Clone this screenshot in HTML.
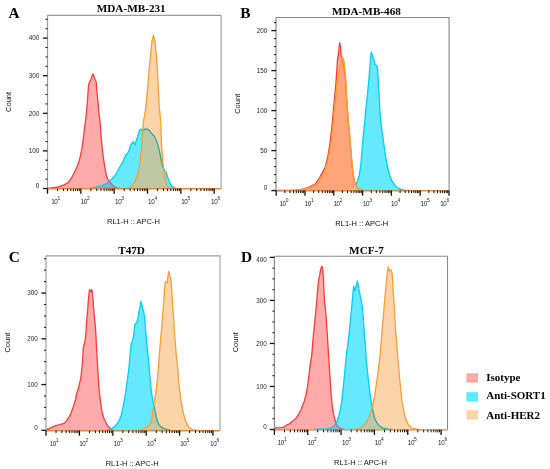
<!DOCTYPE html>
<html><head><meta charset="utf-8"><title>Flow cytometry histograms</title><style>
html,body{margin:0;padding:0;background:#fff;}
svg{display:block;filter:blur(0.3px);}
.tl{font-family:"Liberation Sans",sans-serif;font-size:6.3px;fill:#1e1e1e;}
.xl{letter-spacing:-0.35px;}
.sup{font-size:4.9px;}
.ax{font-family:"Liberation Sans",sans-serif;font-size:7.5px;fill:#111;}
.ti{font-family:"Liberation Serif",serif;font-weight:bold;font-size:11.2px;fill:#000;}
.le{font-family:"Liberation Serif",serif;font-weight:bold;font-size:15.3px;fill:#000;}
.lg{font-family:"Liberation Serif",serif;font-weight:bold;font-size:11px;fill:#000;}
</style></head>
<body><svg width="550" height="469" viewBox="0 0 550 469">
<defs><clipPath id="cAred"><path d="M47.5 188.5L47.5 188.5L55 187.5L58 186.9L61 185.9L64 184.9L66.9 183.4L69.9 180.4L72.2 176.7L74.4 172.2L76.6 167.8L78.9 161.8L80.4 155.8L81.9 148.4L83.2 139.4L84.3 129.5L85.6 120L86.5 111L87.1 105.8L87.8 95.5L88.4 86.6L88.8 84L91 78.9L92.2 75.7L92.9 73.8L94.4 77.7L95.4 80.2L96.1 81.5L96.7 89.2L97.7 99.4L98.9 112.1L99.8 120L100.7 129L101.2 137.9L102.2 146.9L103.1 155.8L104.2 163.3L105.2 169.3L106.4 175.2L107.9 179.7L109.7 181.9L111.6 184.2L113.9 186.4L116.9 187.9L120 188.5L120 188.5Z"/></clipPath><clipPath id="cAcyan"><path d="M89.5 188.5L89.5 188.5L96 187.2L101.9 185.6L106.4 183.6L109.4 181.3L112.4 178.2L115 175.6L117.5 171.5L119.3 167.8L121.2 164.7L123 161.6L124.6 157.2L125.9 154.8L127.4 153.5L128.6 151.7L129.8 148L130.8 144.9L132.1 142.8L133.3 141.8L134.2 143.6L135 144.9L136 141.2L137.3 137.5L138.2 134.4L139.1 131.9L140.4 129.4L141.2 129.2L142.2 130.7L143.4 130.4L145.3 128.8L147.2 129.2L149.1 130.1L151.8 133.6L154.4 136.3L156.1 139.8L157.9 145L159.6 152L161.4 160.8L163.1 167.8L165.8 172.1L167.5 176.5L169.3 181.8L171.9 186.1L175.4 188.4L178 188.5L178 188.5Z"/></clipPath><clipPath id="cAorange"><path d="M124 188.5L124 188.5L127 188.3L129.8 187.3L131.8 186L133.5 183.9L135.2 181.2L136.6 177.8L138 173.7L139 168.9L139.7 164.1L140.4 160L141.6 146.7L142.5 134.4L143.4 122L143.9 118.8L145.2 112L145.8 106.9L147.7 87.7L149.2 68.5L150.6 55L151.9 41.5L153.5 34.8L155 41.5L156.3 55L157.3 68.5L158.3 87.7L159.2 106.9L159.8 112L160.9 124L161.5 145L162.9 162.5L164.7 176.5L166.9 185.3L169.5 187.9L174 188.5L174 188.5Z"/></clipPath><clipPath id="cBred"><path d="M276 190.5L276 190.5L295 190.1L303.1 189.1L309.2 187.1L315.3 184L319.3 178L322.3 172.9L325.4 166.8L327.8 156.7L330.4 140.5L332.5 120.3L333.4 110L334 103.3L335.7 86.2L336.9 69.2L337.4 60.7L338.2 55.6L339.1 48L339.7 42.6L340.6 47.5L341.1 55.6L342.6 62L344.2 69.2L345.6 81L346.5 98L347.3 110L348.3 122.6L350 140.5L351.6 160.8L353.1 174.9L354.4 182L357.6 187.8L361.8 190.1L365 190.5L365 190.5Z"/></clipPath><clipPath id="cBcyan"><path d="M340 190.5L340 190.5L345.6 190.1L351.7 189.1L355.4 186.1L357.4 181L359.4 174.9L361 163L362.8 140.5L364.9 120.3L365.7 110L367.2 96.7L368.7 81.8L369.9 66.9L370.7 56.4L371.4 52.2L372.9 56.4L374.1 60.9L375.1 64.6L376.6 65.4L377.4 66.9L378.1 77.3L378.9 92.2L379.4 100L379.8 110L380.3 116.2L381.9 130.4L383.9 144.6L385.9 158.8L388.4 171L391.4 180.1L395.5 186.2L400.5 189.2L404.6 190.2L410 190.5L410 190.5Z"/></clipPath><clipPath id="cBorange"><path d="M290 190.5L290 190.5L303.1 189.5L311.2 187.1L317.3 184L321.3 179L325.4 168.9L328.4 158.7L331.5 140.5L333.5 120.3L334.4 110L335.6 98L337.4 81.1L339.1 70.9L340.5 64.1L342.2 56.4L343.9 60.7L345.1 70.9L345.9 81.1L346.8 98.2L347.6 110L348.5 122.6L350.2 140.5L351.8 160.8L353.3 174.9L354.6 182L357.8 187.8L361.8 190.1L370 190.5L370 190.5Z"/></clipPath><clipPath id="cCred"><path d="M46 430.5L46 430.5L46.9 429.4L50.7 427.9L55.5 425.6L60 424.7L63 423.7L64.5 423.2L66.5 420.6L69 417.1L71 413.1L73.1 407.1L75.1 401.1L76.6 393.5L77.8 390L79.1 385.1L80.7 378.7L81.6 371L82.3 363.3L82.9 355.6L83.3 347.9L83.8 345.4L84.6 342.8L85.5 337.7L86.1 331L86.4 324.9L87.1 315.8L87.9 306.8L88.5 298.9L89 293.3L89.6 289.7L90.7 291.6L91.8 289.7L92.4 293.3L93 298.9L93.5 306.8L94.3 315.8L95.2 324.9L95.9 335L96.5 347.4L97.2 359.8L98.2 376.3L99.2 390.8L100.7 403.2L102.3 413.5L104.4 419.7L106.5 423.8L108.5 426.9L110.6 428.4L113 430.5L113 430.5Z"/></clipPath><clipPath id="cCcyan"><path d="M106 430.5L106 430.5L110 429.1L112.5 428L115.7 425.5L118.2 422.2L120.7 417.3L122.3 410.7L123.9 402.5L125.6 392.7L127.2 381.2L128.9 368.1L129.6 360L130.5 350.4L131.2 343.5L132.6 340.7L133.7 335.2L134.4 328.2L135 324.1L136.8 322.7L138.2 317.2L138.9 311.6L140 307.5L140.9 301.2L141.9 304.7L142.7 308.9L143.7 311.6L144.7 318.5L145.5 329.6L146.5 340.7L147.4 350.4L148.2 357L149 364.8L149.8 376.3L151 387.8L152.3 397.6L153.4 404.2L154.4 407.5L155.6 414L157.2 420.6L158.9 424.7L161.3 427.1L164.6 428.8L167.9 429.6L171 430.5L171 430.5Z"/></clipPath><clipPath id="cCorange"><path d="M137 430.5L137 430.5L141.6 429.6L145.7 428L149 425.5L151.5 420.6L152.8 412.4L153.9 404.2L155.6 394.3L157.2 381.2L158.4 368.1L159.3 355L161 335L161.9 324.7L163.1 309.8L164.2 294.9L164.9 284.4L165.7 281.7L167.2 282.9L167.9 276.2L168.7 271.3L169.7 275.4L170.9 279.2L171.6 287.4L172.4 302.3L173.6 317.2L174.6 335L176.3 355L177.8 368.6L178.8 384L180.6 397.6L182.8 411.3L185.7 421.5L189.1 427.5L193.3 430L198 430.5L198 430.5Z"/></clipPath><clipPath id="cDred"><path d="M274.4 429.7L274.4 429.7L275.5 427.8L281 427.6L283.7 427.1L285 426.2L287.3 424.6L289.6 423.8L291.9 421.5L294.2 420L296.5 417.7L298.8 413.8L301.2 409.2L302.7 404.6L304.2 401.5L305.8 395.4L307.3 387.7L308.4 380L309.6 369.2L310.6 362L311.7 355.6L312.6 344.4L313.6 333.3L314.7 322.2L315.8 311.1L316.8 300L317.6 289.9L318.4 280.9L319.7 274.9L320.9 268.2L321.9 266.3L322.8 268.2L323.4 277.9L323.9 289.9L324.4 300L325.6 311.1L326.5 322.2L327.2 333.3L327.9 344.4L328.6 355.6L329.7 372.3L330.5 384.6L331.2 395.4L332.3 406.2L333.5 413.8L335.1 420L336.6 424.6L338.9 427.7L342 428.9L345 429.7L345 429.7Z"/></clipPath><clipPath id="cDcyan"><path d="M314 429.7L314 429.7L317.7 429L325.1 429.2L329.7 428.5L332.8 426.9L335.1 424.6L337.1 420.8L338.9 415.4L340.8 407.7L342.3 396.9L343.5 384.6L344.8 372.3L345.8 360L346.8 352L347.8 345L349 334.7L350.4 319.8L351.9 304.9L353.1 291.4L353.7 286.2L354.9 290.7L357.5 281L358.7 288.4L360.9 298.9L362.4 307.8L363.6 322.8L364.6 337.7L365.4 345L366.3 360.3L368.4 380.5L370.4 396.7L372.4 408.9L374.8 419L378.5 425.1L382.5 428.1L388.6 429.1L393 429.7L393 429.7Z"/></clipPath><clipPath id="cDorange"><path d="M350 429.7L350 429.7L356.2 429.1L360.3 428.1L365.3 424L369.4 417L372.4 406.8L374.4 396.7L376.9 380.5L379.5 360.3L381.2 342L382.1 330L383.1 319.7L384.3 304.8L385.6 289.7L386.6 280L387.3 272.4L388.3 267L389.4 271.2L390.9 269.7L392.1 273.4L392.7 282.4L393.6 297.3L394.6 312.2L395.5 330L396.5 340L398 360.3L399.8 380.5L401.9 400.8L404.5 414.9L407.8 424L411.9 428.1L417 429.1L422 429.7L422 429.7Z"/></clipPath></defs>
<rect width="550" height="469" fill="#fff"/>
<g><path d="M47.5 188.5L47.5 188.5L55 187.5L58 186.9L61 185.9L64 184.9L66.9 183.4L69.9 180.4L72.2 176.7L74.4 172.2L76.6 167.8L78.9 161.8L80.4 155.8L81.9 148.4L83.2 139.4L84.3 129.5L85.6 120L86.5 111L87.1 105.8L87.8 95.5L88.4 86.6L88.8 84L91 78.9L92.2 75.7L92.9 73.8L94.4 77.7L95.4 80.2L96.1 81.5L96.7 89.2L97.7 99.4L98.9 112.1L99.8 120L100.7 129L101.2 137.9L102.2 146.9L103.1 155.8L104.2 163.3L105.2 169.3L106.4 175.2L107.9 179.7L109.7 181.9L111.6 184.2L113.9 186.4L116.9 187.9L120 188.5L120 188.5Z" fill="#ffaaab"/><path d="M47.5 188.5L55 187.5L58 186.9L61 185.9L64 184.9L66.9 183.4L69.9 180.4L72.2 176.7L74.4 172.2L76.6 167.8L78.9 161.8L80.4 155.8L81.9 148.4L83.2 139.4L84.3 129.5L85.6 120L86.5 111L87.1 105.8L87.8 95.5L88.4 86.6L88.8 84L91 78.9L92.2 75.7L92.9 73.8L94.4 77.7L95.4 80.2L96.1 81.5L96.7 89.2L97.7 99.4L98.9 112.1L99.8 120L100.7 129L101.2 137.9L102.2 146.9L103.1 155.8L104.2 163.3L105.2 169.3L106.4 175.2L107.9 179.7L109.7 181.9L111.6 184.2L113.9 186.4L116.9 187.9L120 188.5" fill="none" stroke="#ff3b3b" stroke-width="1.3" stroke-linejoin="round"/><path d="M89.5 188.5L89.5 188.5L96 187.2L101.9 185.6L106.4 183.6L109.4 181.3L112.4 178.2L115 175.6L117.5 171.5L119.3 167.8L121.2 164.7L123 161.6L124.6 157.2L125.9 154.8L127.4 153.5L128.6 151.7L129.8 148L130.8 144.9L132.1 142.8L133.3 141.8L134.2 143.6L135 144.9L136 141.2L137.3 137.5L138.2 134.4L139.1 131.9L140.4 129.4L141.2 129.2L142.2 130.7L143.4 130.4L145.3 128.8L147.2 129.2L149.1 130.1L151.8 133.6L154.4 136.3L156.1 139.8L157.9 145L159.6 152L161.4 160.8L163.1 167.8L165.8 172.1L167.5 176.5L169.3 181.8L171.9 186.1L175.4 188.4L178 188.5L178 188.5Z" fill="#64e9ff"/><path d="M89.5 188.5L89.5 188.5L96 187.2L101.9 185.6L106.4 183.6L109.4 181.3L112.4 178.2L115 175.6L117.5 171.5L119.3 167.8L121.2 164.7L123 161.6L124.6 157.2L125.9 154.8L127.4 153.5L128.6 151.7L129.8 148L130.8 144.9L132.1 142.8L133.3 141.8L134.2 143.6L135 144.9L136 141.2L137.3 137.5L138.2 134.4L139.1 131.9L140.4 129.4L141.2 129.2L142.2 130.7L143.4 130.4L145.3 128.8L147.2 129.2L149.1 130.1L151.8 133.6L154.4 136.3L156.1 139.8L157.9 145L159.6 152L161.4 160.8L163.1 167.8L165.8 172.1L167.5 176.5L169.3 181.8L171.9 186.1L175.4 188.4L178 188.5L178 188.5Z" fill="#82b4c8" clip-path="url(#cAred)"/><path d="M47.5 188.5L55 187.5L58 186.9L61 185.9L64 184.9L66.9 183.4L69.9 180.4L72.2 176.7L74.4 172.2L76.6 167.8L78.9 161.8L80.4 155.8L81.9 148.4L83.2 139.4L84.3 129.5L85.6 120L86.5 111L87.1 105.8L87.8 95.5L88.4 86.6L88.8 84L91 78.9L92.2 75.7L92.9 73.8L94.4 77.7L95.4 80.2L96.1 81.5L96.7 89.2L97.7 99.4L98.9 112.1L99.8 120L100.7 129L101.2 137.9L102.2 146.9L103.1 155.8L104.2 163.3L105.2 169.3L106.4 175.2L107.9 179.7L109.7 181.9L111.6 184.2L113.9 186.4L116.9 187.9L120 188.5" fill="none" stroke="#b46e82" stroke-width="1.3" stroke-linejoin="round" clip-path="url(#cAcyan)"/><path d="M89.5 188.5L96 187.2L101.9 185.6L106.4 183.6L109.4 181.3L112.4 178.2L115 175.6L117.5 171.5L119.3 167.8L121.2 164.7L123 161.6L124.6 157.2L125.9 154.8L127.4 153.5L128.6 151.7L129.8 148L130.8 144.9L132.1 142.8L133.3 141.8L134.2 143.6L135 144.9L136 141.2L137.3 137.5L138.2 134.4L139.1 131.9L140.4 129.4L141.2 129.2L142.2 130.7L143.4 130.4L145.3 128.8L147.2 129.2L149.1 130.1L151.8 133.6L154.4 136.3L156.1 139.8L157.9 145L159.6 152L161.4 160.8L163.1 167.8L165.8 172.1L167.5 176.5L169.3 181.8L171.9 186.1L175.4 188.4L178 188.5" fill="none" stroke="#06cdf6" stroke-width="1.3" stroke-linejoin="round"/><path d="M124 188.5L124 188.5L127 188.3L129.8 187.3L131.8 186L133.5 183.9L135.2 181.2L136.6 177.8L138 173.7L139 168.9L139.7 164.1L140.4 160L141.6 146.7L142.5 134.4L143.4 122L143.9 118.8L145.2 112L145.8 106.9L147.7 87.7L149.2 68.5L150.6 55L151.9 41.5L153.5 34.8L155 41.5L156.3 55L157.3 68.5L158.3 87.7L159.2 106.9L159.8 112L160.9 124L161.5 145L162.9 162.5L164.7 176.5L166.9 185.3L169.5 187.9L174 188.5L174 188.5Z" fill="#fcd4aa"/><path d="M124 188.5L124 188.5L127 188.3L129.8 187.3L131.8 186L133.5 183.9L135.2 181.2L136.6 177.8L138 173.7L139 168.9L139.7 164.1L140.4 160L141.6 146.7L142.5 134.4L143.4 122L143.9 118.8L145.2 112L145.8 106.9L147.7 87.7L149.2 68.5L150.6 55L151.9 41.5L153.5 34.8L155 41.5L156.3 55L157.3 68.5L158.3 87.7L159.2 106.9L159.8 112L160.9 124L161.5 145L162.9 162.5L164.7 176.5L166.9 185.3L169.5 187.9L174 188.5L174 188.5Z" fill="#bec8a5" clip-path="url(#cAcyan)"/><path d="M89.5 188.5L96 187.2L101.9 185.6L106.4 183.6L109.4 181.3L112.4 178.2L115 175.6L117.5 171.5L119.3 167.8L121.2 164.7L123 161.6L124.6 157.2L125.9 154.8L127.4 153.5L128.6 151.7L129.8 148L130.8 144.9L132.1 142.8L133.3 141.8L134.2 143.6L135 144.9L136 141.2L137.3 137.5L138.2 134.4L139.1 131.9L140.4 129.4L141.2 129.2L142.2 130.7L143.4 130.4L145.3 128.8L147.2 129.2L149.1 130.1L151.8 133.6L154.4 136.3L156.1 139.8L157.9 145L159.6 152L161.4 160.8L163.1 167.8L165.8 172.1L167.5 176.5L169.3 181.8L171.9 186.1L175.4 188.4L178 188.5" fill="none" stroke="#28aaa0" stroke-width="1.3" stroke-linejoin="round" clip-path="url(#cAorange)"/><path d="M124 188.5L127 188.3L129.8 187.3L131.8 186L133.5 183.9L135.2 181.2L136.6 177.8L138 173.7L139 168.9L139.7 164.1L140.4 160L141.6 146.7L142.5 134.4L143.4 122L143.9 118.8L145.2 112L145.8 106.9L147.7 87.7L149.2 68.5L150.6 55L151.9 41.5L153.5 34.8L155 41.5L156.3 55L157.3 68.5L158.3 87.7L159.2 106.9L159.8 112L160.9 124L161.5 145L162.9 162.5L164.7 176.5L166.9 185.3L169.5 187.9L174 188.5" fill="none" stroke="#fa9e32" stroke-width="1.3" stroke-linejoin="round"/></g>
<line x1="47.5" y1="188.7" x2="221.1" y2="188.7" stroke="#dc8a44" stroke-width="1.4"/>
<path d="M47.5 15.4H221.1V188.5" fill="none" stroke="#9a9a9a" stroke-width="1.1"/>
<line x1="47.5" y1="15.4" x2="47.5" y2="189" stroke="#9a9a9a" stroke-width="1.2"/>
<g><line x1="42.9" y1="188.5" x2="47.5" y2="188.5" stroke="#111" stroke-width="1.3"/><line x1="45.5" y1="179.1" x2="47.5" y2="179.1" stroke="#111" stroke-width="1.0"/><line x1="45.5" y1="169.7" x2="47.5" y2="169.7" stroke="#111" stroke-width="1.0"/><line x1="45.5" y1="160.3" x2="47.5" y2="160.3" stroke="#111" stroke-width="1.0"/><line x1="42.9" y1="150.9" x2="47.5" y2="150.9" stroke="#111" stroke-width="1.3"/><line x1="45.5" y1="141.5" x2="47.5" y2="141.5" stroke="#111" stroke-width="1.0"/><line x1="45.5" y1="132.1" x2="47.5" y2="132.1" stroke="#111" stroke-width="1.0"/><line x1="45.5" y1="122.7" x2="47.5" y2="122.7" stroke="#111" stroke-width="1.0"/><line x1="42.9" y1="113.3" x2="47.5" y2="113.3" stroke="#111" stroke-width="1.3"/><line x1="45.5" y1="103.9" x2="47.5" y2="103.9" stroke="#111" stroke-width="1.0"/><line x1="45.5" y1="94.5" x2="47.5" y2="94.5" stroke="#111" stroke-width="1.0"/><line x1="45.5" y1="85.1" x2="47.5" y2="85.1" stroke="#111" stroke-width="1.0"/><line x1="42.9" y1="75.7" x2="47.5" y2="75.7" stroke="#111" stroke-width="1.3"/><line x1="45.5" y1="66.3" x2="47.5" y2="66.3" stroke="#111" stroke-width="1.0"/><line x1="45.5" y1="56.9" x2="47.5" y2="56.9" stroke="#111" stroke-width="1.0"/><line x1="45.5" y1="47.5" x2="47.5" y2="47.5" stroke="#111" stroke-width="1.0"/><line x1="42.9" y1="38.1" x2="47.5" y2="38.1" stroke="#111" stroke-width="1.3"/><line x1="45.5" y1="28.7" x2="47.5" y2="28.7" stroke="#111" stroke-width="1.0"/><line x1="45.5" y1="19.3" x2="47.5" y2="19.3" stroke="#111" stroke-width="1.0"/><text x="39.2" y="188.2" text-anchor="end" class="tl">0</text><text x="39.2" y="153.1" text-anchor="end" class="tl">100</text><text x="39.2" y="115.5" text-anchor="end" class="tl">200</text><text x="39.2" y="77.9" text-anchor="end" class="tl">300</text><text x="39.2" y="40.3" text-anchor="end" class="tl">400</text><line x1="47.5" y1="188.5" x2="47.5" y2="193.7" stroke="#111" stroke-width="1.3"/><line x1="57.54" y1="188.5" x2="57.54" y2="191.1" stroke="#111" stroke-width="1"/><line x1="63.41" y1="188.5" x2="63.41" y2="191.1" stroke="#111" stroke-width="1"/><line x1="67.57" y1="188.5" x2="67.57" y2="191.1" stroke="#111" stroke-width="1"/><line x1="70.8" y1="188.5" x2="70.8" y2="191.1" stroke="#111" stroke-width="1"/><line x1="73.44" y1="188.5" x2="73.44" y2="191.1" stroke="#111" stroke-width="1"/><line x1="75.68" y1="188.5" x2="75.68" y2="191.1" stroke="#111" stroke-width="1"/><line x1="77.61" y1="188.5" x2="77.61" y2="191.1" stroke="#111" stroke-width="1"/><line x1="79.31" y1="188.5" x2="79.31" y2="191.1" stroke="#111" stroke-width="1"/><line x1="80.84" y1="188.5" x2="80.84" y2="193.7" stroke="#111" stroke-width="1.3"/><line x1="90.88" y1="188.5" x2="90.88" y2="191.1" stroke="#111" stroke-width="1"/><line x1="96.75" y1="188.5" x2="96.75" y2="191.1" stroke="#111" stroke-width="1"/><line x1="100.91" y1="188.5" x2="100.91" y2="191.1" stroke="#111" stroke-width="1"/><line x1="104.14" y1="188.5" x2="104.14" y2="191.1" stroke="#111" stroke-width="1"/><line x1="106.78" y1="188.5" x2="106.78" y2="191.1" stroke="#111" stroke-width="1"/><line x1="109.02" y1="188.5" x2="109.02" y2="191.1" stroke="#111" stroke-width="1"/><line x1="110.95" y1="188.5" x2="110.95" y2="191.1" stroke="#111" stroke-width="1"/><line x1="112.65" y1="188.5" x2="112.65" y2="191.1" stroke="#111" stroke-width="1"/><line x1="114.18" y1="188.5" x2="114.18" y2="193.7" stroke="#111" stroke-width="1.3"/><line x1="124.22" y1="188.5" x2="124.22" y2="191.1" stroke="#111" stroke-width="1"/><line x1="130.09" y1="188.5" x2="130.09" y2="191.1" stroke="#111" stroke-width="1"/><line x1="134.25" y1="188.5" x2="134.25" y2="191.1" stroke="#111" stroke-width="1"/><line x1="137.48" y1="188.5" x2="137.48" y2="191.1" stroke="#111" stroke-width="1"/><line x1="140.12" y1="188.5" x2="140.12" y2="191.1" stroke="#111" stroke-width="1"/><line x1="142.36" y1="188.5" x2="142.36" y2="191.1" stroke="#111" stroke-width="1"/><line x1="144.29" y1="188.5" x2="144.29" y2="191.1" stroke="#111" stroke-width="1"/><line x1="145.99" y1="188.5" x2="145.99" y2="191.1" stroke="#111" stroke-width="1"/><line x1="147.52" y1="188.5" x2="147.52" y2="193.7" stroke="#111" stroke-width="1.3"/><line x1="157.56" y1="188.5" x2="157.56" y2="191.1" stroke="#111" stroke-width="1"/><line x1="163.43" y1="188.5" x2="163.43" y2="191.1" stroke="#111" stroke-width="1"/><line x1="167.59" y1="188.5" x2="167.59" y2="191.1" stroke="#111" stroke-width="1"/><line x1="170.82" y1="188.5" x2="170.82" y2="191.1" stroke="#111" stroke-width="1"/><line x1="173.46" y1="188.5" x2="173.46" y2="191.1" stroke="#111" stroke-width="1"/><line x1="175.7" y1="188.5" x2="175.7" y2="191.1" stroke="#111" stroke-width="1"/><line x1="177.63" y1="188.5" x2="177.63" y2="191.1" stroke="#111" stroke-width="1"/><line x1="179.33" y1="188.5" x2="179.33" y2="191.1" stroke="#111" stroke-width="1"/><line x1="180.86" y1="188.5" x2="180.86" y2="193.7" stroke="#111" stroke-width="1.3"/><line x1="190.9" y1="188.5" x2="190.9" y2="191.1" stroke="#111" stroke-width="1"/><line x1="196.77" y1="188.5" x2="196.77" y2="191.1" stroke="#111" stroke-width="1"/><line x1="200.93" y1="188.5" x2="200.93" y2="191.1" stroke="#111" stroke-width="1"/><line x1="204.16" y1="188.5" x2="204.16" y2="191.1" stroke="#111" stroke-width="1"/><line x1="206.8" y1="188.5" x2="206.8" y2="191.1" stroke="#111" stroke-width="1"/><line x1="209.04" y1="188.5" x2="209.04" y2="191.1" stroke="#111" stroke-width="1"/><line x1="210.97" y1="188.5" x2="210.97" y2="191.1" stroke="#111" stroke-width="1"/><line x1="212.67" y1="188.5" x2="212.67" y2="191.1" stroke="#111" stroke-width="1"/><line x1="214.2" y1="188.5" x2="214.2" y2="193.7" stroke="#111" stroke-width="1.3"/><text x="51.2" y="203.9" class="tl xl">10<tspan class="sup" dy="-4.2">1</tspan></text><text x="80.7" y="203.9" class="tl xl">10<tspan class="sup" dy="-4.2">2</tspan></text><text x="115" y="203.9" class="tl xl">10<tspan class="sup" dy="-4.2">3</tspan></text><text x="148.1" y="203.9" class="tl xl">10<tspan class="sup" dy="-4.2">4</tspan></text><text x="181.2" y="203.9" class="tl xl">10<tspan class="sup" dy="-4.2">5</tspan></text><text x="211.1" y="203.9" class="tl xl">10<tspan class="sup" dy="-4.2">6</tspan></text></g>
<text x="107" y="223.8" class="ax">RL1-H :: APC-H</text>
<text x="0" y="0" class="ax" text-anchor="middle" transform="translate(11.2 101.9) rotate(-90)">Count</text>
<text x="96.7" y="11.8" class="ti">MDA-MB-231</text>
<text x="8.4" y="17.7" class="le">A</text>
<g><path d="M276 190.5L276 190.5L295 190.1L303.1 189.1L309.2 187.1L315.3 184L319.3 178L322.3 172.9L325.4 166.8L327.8 156.7L330.4 140.5L332.5 120.3L333.4 110L334 103.3L335.7 86.2L336.9 69.2L337.4 60.7L338.2 55.6L339.1 48L339.7 42.6L340.6 47.5L341.1 55.6L342.6 62L344.2 69.2L345.6 81L346.5 98L347.3 110L348.3 122.6L350 140.5L351.6 160.8L353.1 174.9L354.4 182L357.6 187.8L361.8 190.1L365 190.5L365 190.5Z" fill="#ffaaab"/><path d="M276 190.5L295 190.1L303.1 189.1L309.2 187.1L315.3 184L319.3 178L322.3 172.9L325.4 166.8L327.8 156.7L330.4 140.5L332.5 120.3L333.4 110L334 103.3L335.7 86.2L336.9 69.2L337.4 60.7L338.2 55.6L339.1 48L339.7 42.6L340.6 47.5L341.1 55.6L342.6 62L344.2 69.2L345.6 81L346.5 98L347.3 110L348.3 122.6L350 140.5L351.6 160.8L353.1 174.9L354.4 182L357.6 187.8L361.8 190.1L365 190.5" fill="none" stroke="#ff3b3b" stroke-width="1.3" stroke-linejoin="round"/><path d="M340 190.5L340 190.5L345.6 190.1L351.7 189.1L355.4 186.1L357.4 181L359.4 174.9L361 163L362.8 140.5L364.9 120.3L365.7 110L367.2 96.7L368.7 81.8L369.9 66.9L370.7 56.4L371.4 52.2L372.9 56.4L374.1 60.9L375.1 64.6L376.6 65.4L377.4 66.9L378.1 77.3L378.9 92.2L379.4 100L379.8 110L380.3 116.2L381.9 130.4L383.9 144.6L385.9 158.8L388.4 171L391.4 180.1L395.5 186.2L400.5 189.2L404.6 190.2L410 190.5L410 190.5Z" fill="#64e9ff"/><path d="M340 190.5L340 190.5L345.6 190.1L351.7 189.1L355.4 186.1L357.4 181L359.4 174.9L361 163L362.8 140.5L364.9 120.3L365.7 110L367.2 96.7L368.7 81.8L369.9 66.9L370.7 56.4L371.4 52.2L372.9 56.4L374.1 60.9L375.1 64.6L376.6 65.4L377.4 66.9L378.1 77.3L378.9 92.2L379.4 100L379.8 110L380.3 116.2L381.9 130.4L383.9 144.6L385.9 158.8L388.4 171L391.4 180.1L395.5 186.2L400.5 189.2L404.6 190.2L410 190.5L410 190.5Z" fill="#82b4c8" clip-path="url(#cBred)"/><path d="M340 190.5L345.6 190.1L351.7 189.1L355.4 186.1L357.4 181L359.4 174.9L361 163L362.8 140.5L364.9 120.3L365.7 110L367.2 96.7L368.7 81.8L369.9 66.9L370.7 56.4L371.4 52.2L372.9 56.4L374.1 60.9L375.1 64.6L376.6 65.4L377.4 66.9L378.1 77.3L378.9 92.2L379.4 100L379.8 110L380.3 116.2L381.9 130.4L383.9 144.6L385.9 158.8L388.4 171L391.4 180.1L395.5 186.2L400.5 189.2L404.6 190.2L410 190.5" fill="none" stroke="#06cdf6" stroke-width="1.3" stroke-linejoin="round"/><path d="M290 190.5L290 190.5L303.1 189.5L311.2 187.1L317.3 184L321.3 179L325.4 168.9L328.4 158.7L331.5 140.5L333.5 120.3L334.4 110L335.6 98L337.4 81.1L339.1 70.9L340.5 64.1L342.2 56.4L343.9 60.7L345.1 70.9L345.9 81.1L346.8 98.2L347.6 110L348.5 122.6L350.2 140.5L351.8 160.8L353.3 174.9L354.6 182L357.8 187.8L361.8 190.1L370 190.5L370 190.5Z" fill="#fcd4aa"/><path d="M290 190.5L290 190.5L303.1 189.5L311.2 187.1L317.3 184L321.3 179L325.4 168.9L328.4 158.7L331.5 140.5L333.5 120.3L334.4 110L335.6 98L337.4 81.1L339.1 70.9L340.5 64.1L342.2 56.4L343.9 60.7L345.1 70.9L345.9 81.1L346.8 98.2L347.6 110L348.5 122.6L350.2 140.5L351.8 160.8L353.3 174.9L354.6 182L357.8 187.8L361.8 190.1L370 190.5L370 190.5Z" fill="#ffa578" clip-path="url(#cBred)"/><path d="M290 190.5L290 190.5L303.1 189.5L311.2 187.1L317.3 184L321.3 179L325.4 168.9L328.4 158.7L331.5 140.5L333.5 120.3L334.4 110L335.6 98L337.4 81.1L339.1 70.9L340.5 64.1L342.2 56.4L343.9 60.7L345.1 70.9L345.9 81.1L346.8 98.2L347.6 110L348.5 122.6L350.2 140.5L351.8 160.8L353.3 174.9L354.6 182L357.8 187.8L361.8 190.1L370 190.5L370 190.5Z" fill="#bec8a5" clip-path="url(#cBcyan)"/><path d="M276 190.5L295 190.1L303.1 189.1L309.2 187.1L315.3 184L319.3 178L322.3 172.9L325.4 166.8L327.8 156.7L330.4 140.5L332.5 120.3L333.4 110L334 103.3L335.7 86.2L336.9 69.2L337.4 60.7L338.2 55.6L339.1 48L339.7 42.6L340.6 47.5L341.1 55.6L342.6 62L344.2 69.2L345.6 81L346.5 98L347.3 110L348.3 122.6L350 140.5L351.6 160.8L353.1 174.9L354.4 182L357.6 187.8L361.8 190.1L365 190.5" fill="none" stroke="#f07850" stroke-width="1.3" stroke-linejoin="round" clip-path="url(#cBorange)"/><path d="M290 190.5L303.1 189.5L311.2 187.1L317.3 184L321.3 179L325.4 168.9L328.4 158.7L331.5 140.5L333.5 120.3L334.4 110L335.6 98L337.4 81.1L339.1 70.9L340.5 64.1L342.2 56.4L343.9 60.7L345.1 70.9L345.9 81.1L346.8 98.2L347.6 110L348.5 122.6L350.2 140.5L351.8 160.8L353.3 174.9L354.6 182L357.8 187.8L361.8 190.1L370 190.5" fill="none" stroke="#fa9e32" stroke-width="1.3" stroke-linejoin="round"/></g>
<line x1="276" y1="190.7" x2="449.1" y2="190.7" stroke="#dc8a44" stroke-width="1.4"/>
<path d="M276 17.5H449.1V190.5" fill="none" stroke="#858585" stroke-width="1.1"/>
<line x1="276" y1="17.5" x2="276" y2="191" stroke="#858585" stroke-width="1.2"/>
<g><line x1="271.4" y1="190.6" x2="276" y2="190.6" stroke="#111" stroke-width="1.3"/><line x1="274" y1="182.6" x2="276" y2="182.6" stroke="#111" stroke-width="1.0"/><line x1="274" y1="174.6" x2="276" y2="174.6" stroke="#111" stroke-width="1.0"/><line x1="274" y1="166.6" x2="276" y2="166.6" stroke="#111" stroke-width="1.0"/><line x1="274" y1="158.6" x2="276" y2="158.6" stroke="#111" stroke-width="1.0"/><line x1="271.4" y1="150.6" x2="276" y2="150.6" stroke="#111" stroke-width="1.3"/><line x1="274" y1="142.6" x2="276" y2="142.6" stroke="#111" stroke-width="1.0"/><line x1="274" y1="134.6" x2="276" y2="134.6" stroke="#111" stroke-width="1.0"/><line x1="274" y1="126.6" x2="276" y2="126.6" stroke="#111" stroke-width="1.0"/><line x1="274" y1="118.6" x2="276" y2="118.6" stroke="#111" stroke-width="1.0"/><line x1="271.4" y1="110.6" x2="276" y2="110.6" stroke="#111" stroke-width="1.3"/><line x1="274" y1="102.6" x2="276" y2="102.6" stroke="#111" stroke-width="1.0"/><line x1="274" y1="94.6" x2="276" y2="94.6" stroke="#111" stroke-width="1.0"/><line x1="274" y1="86.6" x2="276" y2="86.6" stroke="#111" stroke-width="1.0"/><line x1="274" y1="78.6" x2="276" y2="78.6" stroke="#111" stroke-width="1.0"/><line x1="271.4" y1="70.6" x2="276" y2="70.6" stroke="#111" stroke-width="1.3"/><line x1="274" y1="62.6" x2="276" y2="62.6" stroke="#111" stroke-width="1.0"/><line x1="274" y1="54.6" x2="276" y2="54.6" stroke="#111" stroke-width="1.0"/><line x1="274" y1="46.6" x2="276" y2="46.6" stroke="#111" stroke-width="1.0"/><line x1="274" y1="38.6" x2="276" y2="38.6" stroke="#111" stroke-width="1.0"/><line x1="271.4" y1="30.6" x2="276" y2="30.6" stroke="#111" stroke-width="1.3"/><line x1="274" y1="22.6" x2="276" y2="22.6" stroke="#111" stroke-width="1.0"/><text x="267.3" y="190.3" text-anchor="end" class="tl">0</text><text x="267.3" y="152.8" text-anchor="end" class="tl">50</text><text x="267.3" y="112.8" text-anchor="end" class="tl">100</text><text x="267.3" y="72.8" text-anchor="end" class="tl">150</text><text x="267.3" y="32.8" text-anchor="end" class="tl">200</text><line x1="276.2" y1="190.5" x2="276.2" y2="195.7" stroke="#111" stroke-width="1.3"/><line x1="284.87" y1="190.5" x2="284.87" y2="193.1" stroke="#111" stroke-width="1"/><line x1="289.94" y1="190.5" x2="289.94" y2="193.1" stroke="#111" stroke-width="1"/><line x1="293.54" y1="190.5" x2="293.54" y2="193.1" stroke="#111" stroke-width="1"/><line x1="296.33" y1="190.5" x2="296.33" y2="193.1" stroke="#111" stroke-width="1"/><line x1="298.61" y1="190.5" x2="298.61" y2="193.1" stroke="#111" stroke-width="1"/><line x1="300.54" y1="190.5" x2="300.54" y2="193.1" stroke="#111" stroke-width="1"/><line x1="302.21" y1="190.5" x2="302.21" y2="193.1" stroke="#111" stroke-width="1"/><line x1="303.68" y1="190.5" x2="303.68" y2="193.1" stroke="#111" stroke-width="1"/><line x1="305" y1="190.5" x2="305" y2="195.7" stroke="#111" stroke-width="1.3"/><line x1="313.67" y1="190.5" x2="313.67" y2="193.1" stroke="#111" stroke-width="1"/><line x1="318.74" y1="190.5" x2="318.74" y2="193.1" stroke="#111" stroke-width="1"/><line x1="322.34" y1="190.5" x2="322.34" y2="193.1" stroke="#111" stroke-width="1"/><line x1="325.13" y1="190.5" x2="325.13" y2="193.1" stroke="#111" stroke-width="1"/><line x1="327.41" y1="190.5" x2="327.41" y2="193.1" stroke="#111" stroke-width="1"/><line x1="329.34" y1="190.5" x2="329.34" y2="193.1" stroke="#111" stroke-width="1"/><line x1="331.01" y1="190.5" x2="331.01" y2="193.1" stroke="#111" stroke-width="1"/><line x1="332.48" y1="190.5" x2="332.48" y2="193.1" stroke="#111" stroke-width="1"/><line x1="333.8" y1="190.5" x2="333.8" y2="195.7" stroke="#111" stroke-width="1.3"/><line x1="342.47" y1="190.5" x2="342.47" y2="193.1" stroke="#111" stroke-width="1"/><line x1="347.54" y1="190.5" x2="347.54" y2="193.1" stroke="#111" stroke-width="1"/><line x1="351.14" y1="190.5" x2="351.14" y2="193.1" stroke="#111" stroke-width="1"/><line x1="353.93" y1="190.5" x2="353.93" y2="193.1" stroke="#111" stroke-width="1"/><line x1="356.21" y1="190.5" x2="356.21" y2="193.1" stroke="#111" stroke-width="1"/><line x1="358.14" y1="190.5" x2="358.14" y2="193.1" stroke="#111" stroke-width="1"/><line x1="359.81" y1="190.5" x2="359.81" y2="193.1" stroke="#111" stroke-width="1"/><line x1="361.28" y1="190.5" x2="361.28" y2="193.1" stroke="#111" stroke-width="1"/><line x1="362.6" y1="190.5" x2="362.6" y2="195.7" stroke="#111" stroke-width="1.3"/><line x1="371.27" y1="190.5" x2="371.27" y2="193.1" stroke="#111" stroke-width="1"/><line x1="376.34" y1="190.5" x2="376.34" y2="193.1" stroke="#111" stroke-width="1"/><line x1="379.94" y1="190.5" x2="379.94" y2="193.1" stroke="#111" stroke-width="1"/><line x1="382.73" y1="190.5" x2="382.73" y2="193.1" stroke="#111" stroke-width="1"/><line x1="385.01" y1="190.5" x2="385.01" y2="193.1" stroke="#111" stroke-width="1"/><line x1="386.94" y1="190.5" x2="386.94" y2="193.1" stroke="#111" stroke-width="1"/><line x1="388.61" y1="190.5" x2="388.61" y2="193.1" stroke="#111" stroke-width="1"/><line x1="390.08" y1="190.5" x2="390.08" y2="193.1" stroke="#111" stroke-width="1"/><line x1="391.4" y1="190.5" x2="391.4" y2="195.7" stroke="#111" stroke-width="1.3"/><line x1="400.07" y1="190.5" x2="400.07" y2="193.1" stroke="#111" stroke-width="1"/><line x1="405.14" y1="190.5" x2="405.14" y2="193.1" stroke="#111" stroke-width="1"/><line x1="408.74" y1="190.5" x2="408.74" y2="193.1" stroke="#111" stroke-width="1"/><line x1="411.53" y1="190.5" x2="411.53" y2="193.1" stroke="#111" stroke-width="1"/><line x1="413.81" y1="190.5" x2="413.81" y2="193.1" stroke="#111" stroke-width="1"/><line x1="415.74" y1="190.5" x2="415.74" y2="193.1" stroke="#111" stroke-width="1"/><line x1="417.41" y1="190.5" x2="417.41" y2="193.1" stroke="#111" stroke-width="1"/><line x1="418.88" y1="190.5" x2="418.88" y2="193.1" stroke="#111" stroke-width="1"/><line x1="420.2" y1="190.5" x2="420.2" y2="195.7" stroke="#111" stroke-width="1.3"/><line x1="428.87" y1="190.5" x2="428.87" y2="193.1" stroke="#111" stroke-width="1"/><line x1="433.94" y1="190.5" x2="433.94" y2="193.1" stroke="#111" stroke-width="1"/><line x1="437.54" y1="190.5" x2="437.54" y2="193.1" stroke="#111" stroke-width="1"/><line x1="440.33" y1="190.5" x2="440.33" y2="193.1" stroke="#111" stroke-width="1"/><line x1="442.61" y1="190.5" x2="442.61" y2="193.1" stroke="#111" stroke-width="1"/><line x1="444.54" y1="190.5" x2="444.54" y2="193.1" stroke="#111" stroke-width="1"/><line x1="446.21" y1="190.5" x2="446.21" y2="193.1" stroke="#111" stroke-width="1"/><line x1="447.68" y1="190.5" x2="447.68" y2="193.1" stroke="#111" stroke-width="1"/><line x1="449" y1="190.5" x2="449" y2="195.7" stroke="#111" stroke-width="1.3"/><text x="279.4" y="206.3" class="tl xl">10<tspan class="sup" dy="-4.2">0</tspan></text><text x="304.7" y="206.3" class="tl xl">10<tspan class="sup" dy="-4.2">1</tspan></text><text x="333.4" y="206.3" class="tl xl">10<tspan class="sup" dy="-4.2">2</tspan></text><text x="362.9" y="206.3" class="tl xl">10<tspan class="sup" dy="-4.2">3</tspan></text><text x="391.1" y="206.3" class="tl xl">10<tspan class="sup" dy="-4.2">4</tspan></text><text x="420.6" y="206.3" class="tl xl">10<tspan class="sup" dy="-4.2">5</tspan></text><text x="440.2" y="206.3" class="tl xl">10<tspan class="sup" dy="-4.2">6</tspan></text></g>
<text x="335.3" y="226" class="ax">RL1-H :: APC-H</text>
<text x="0" y="0" class="ax" text-anchor="middle" transform="translate(239.7 103.8) rotate(-90)">Count</text>
<text x="331.9" y="14.7" class="ti">MDA-MB-468</text>
<text x="240.2" y="17.7" class="le">B</text>
<g><path d="M46 430.5L46 430.5L46.9 429.4L50.7 427.9L55.5 425.6L60 424.7L63 423.7L64.5 423.2L66.5 420.6L69 417.1L71 413.1L73.1 407.1L75.1 401.1L76.6 393.5L77.8 390L79.1 385.1L80.7 378.7L81.6 371L82.3 363.3L82.9 355.6L83.3 347.9L83.8 345.4L84.6 342.8L85.5 337.7L86.1 331L86.4 324.9L87.1 315.8L87.9 306.8L88.5 298.9L89 293.3L89.6 289.7L90.7 291.6L91.8 289.7L92.4 293.3L93 298.9L93.5 306.8L94.3 315.8L95.2 324.9L95.9 335L96.5 347.4L97.2 359.8L98.2 376.3L99.2 390.8L100.7 403.2L102.3 413.5L104.4 419.7L106.5 423.8L108.5 426.9L110.6 428.4L113 430.5L113 430.5Z" fill="#ffaaab"/><path d="M46 430.5L46.9 429.4L50.7 427.9L55.5 425.6L60 424.7L63 423.7L64.5 423.2L66.5 420.6L69 417.1L71 413.1L73.1 407.1L75.1 401.1L76.6 393.5L77.8 390L79.1 385.1L80.7 378.7L81.6 371L82.3 363.3L82.9 355.6L83.3 347.9L83.8 345.4L84.6 342.8L85.5 337.7L86.1 331L86.4 324.9L87.1 315.8L87.9 306.8L88.5 298.9L89 293.3L89.6 289.7L90.7 291.6L91.8 289.7L92.4 293.3L93 298.9L93.5 306.8L94.3 315.8L95.2 324.9L95.9 335L96.5 347.4L97.2 359.8L98.2 376.3L99.2 390.8L100.7 403.2L102.3 413.5L104.4 419.7L106.5 423.8L108.5 426.9L110.6 428.4L113 430.5" fill="none" stroke="#ff3b3b" stroke-width="1.3" stroke-linejoin="round"/><path d="M106 430.5L106 430.5L110 429.1L112.5 428L115.7 425.5L118.2 422.2L120.7 417.3L122.3 410.7L123.9 402.5L125.6 392.7L127.2 381.2L128.9 368.1L129.6 360L130.5 350.4L131.2 343.5L132.6 340.7L133.7 335.2L134.4 328.2L135 324.1L136.8 322.7L138.2 317.2L138.9 311.6L140 307.5L140.9 301.2L141.9 304.7L142.7 308.9L143.7 311.6L144.7 318.5L145.5 329.6L146.5 340.7L147.4 350.4L148.2 357L149 364.8L149.8 376.3L151 387.8L152.3 397.6L153.4 404.2L154.4 407.5L155.6 414L157.2 420.6L158.9 424.7L161.3 427.1L164.6 428.8L167.9 429.6L171 430.5L171 430.5Z" fill="#64e9ff"/><path d="M106 430.5L106 430.5L110 429.1L112.5 428L115.7 425.5L118.2 422.2L120.7 417.3L122.3 410.7L123.9 402.5L125.6 392.7L127.2 381.2L128.9 368.1L129.6 360L130.5 350.4L131.2 343.5L132.6 340.7L133.7 335.2L134.4 328.2L135 324.1L136.8 322.7L138.2 317.2L138.9 311.6L140 307.5L140.9 301.2L141.9 304.7L142.7 308.9L143.7 311.6L144.7 318.5L145.5 329.6L146.5 340.7L147.4 350.4L148.2 357L149 364.8L149.8 376.3L151 387.8L152.3 397.6L153.4 404.2L154.4 407.5L155.6 414L157.2 420.6L158.9 424.7L161.3 427.1L164.6 428.8L167.9 429.6L171 430.5L171 430.5Z" fill="#82b4c8" clip-path="url(#cCred)"/><path d="M46 430.5L46.9 429.4L50.7 427.9L55.5 425.6L60 424.7L63 423.7L64.5 423.2L66.5 420.6L69 417.1L71 413.1L73.1 407.1L75.1 401.1L76.6 393.5L77.8 390L79.1 385.1L80.7 378.7L81.6 371L82.3 363.3L82.9 355.6L83.3 347.9L83.8 345.4L84.6 342.8L85.5 337.7L86.1 331L86.4 324.9L87.1 315.8L87.9 306.8L88.5 298.9L89 293.3L89.6 289.7L90.7 291.6L91.8 289.7L92.4 293.3L93 298.9L93.5 306.8L94.3 315.8L95.2 324.9L95.9 335L96.5 347.4L97.2 359.8L98.2 376.3L99.2 390.8L100.7 403.2L102.3 413.5L104.4 419.7L106.5 423.8L108.5 426.9L110.6 428.4L113 430.5" fill="none" stroke="#b46e82" stroke-width="1.3" stroke-linejoin="round" clip-path="url(#cCcyan)"/><path d="M106 430.5L110 429.1L112.5 428L115.7 425.5L118.2 422.2L120.7 417.3L122.3 410.7L123.9 402.5L125.6 392.7L127.2 381.2L128.9 368.1L129.6 360L130.5 350.4L131.2 343.5L132.6 340.7L133.7 335.2L134.4 328.2L135 324.1L136.8 322.7L138.2 317.2L138.9 311.6L140 307.5L140.9 301.2L141.9 304.7L142.7 308.9L143.7 311.6L144.7 318.5L145.5 329.6L146.5 340.7L147.4 350.4L148.2 357L149 364.8L149.8 376.3L151 387.8L152.3 397.6L153.4 404.2L154.4 407.5L155.6 414L157.2 420.6L158.9 424.7L161.3 427.1L164.6 428.8L167.9 429.6L171 430.5" fill="none" stroke="#06cdf6" stroke-width="1.3" stroke-linejoin="round"/><path d="M137 430.5L137 430.5L141.6 429.6L145.7 428L149 425.5L151.5 420.6L152.8 412.4L153.9 404.2L155.6 394.3L157.2 381.2L158.4 368.1L159.3 355L161 335L161.9 324.7L163.1 309.8L164.2 294.9L164.9 284.4L165.7 281.7L167.2 282.9L167.9 276.2L168.7 271.3L169.7 275.4L170.9 279.2L171.6 287.4L172.4 302.3L173.6 317.2L174.6 335L176.3 355L177.8 368.6L178.8 384L180.6 397.6L182.8 411.3L185.7 421.5L189.1 427.5L193.3 430L198 430.5L198 430.5Z" fill="#fcd4aa"/><path d="M137 430.5L137 430.5L141.6 429.6L145.7 428L149 425.5L151.5 420.6L152.8 412.4L153.9 404.2L155.6 394.3L157.2 381.2L158.4 368.1L159.3 355L161 335L161.9 324.7L163.1 309.8L164.2 294.9L164.9 284.4L165.7 281.7L167.2 282.9L167.9 276.2L168.7 271.3L169.7 275.4L170.9 279.2L171.6 287.4L172.4 302.3L173.6 317.2L174.6 335L176.3 355L177.8 368.6L178.8 384L180.6 397.6L182.8 411.3L185.7 421.5L189.1 427.5L193.3 430L198 430.5L198 430.5Z" fill="#bec8a5" clip-path="url(#cCcyan)"/><path d="M106 430.5L110 429.1L112.5 428L115.7 425.5L118.2 422.2L120.7 417.3L122.3 410.7L123.9 402.5L125.6 392.7L127.2 381.2L128.9 368.1L129.6 360L130.5 350.4L131.2 343.5L132.6 340.7L133.7 335.2L134.4 328.2L135 324.1L136.8 322.7L138.2 317.2L138.9 311.6L140 307.5L140.9 301.2L141.9 304.7L142.7 308.9L143.7 311.6L144.7 318.5L145.5 329.6L146.5 340.7L147.4 350.4L148.2 357L149 364.8L149.8 376.3L151 387.8L152.3 397.6L153.4 404.2L154.4 407.5L155.6 414L157.2 420.6L158.9 424.7L161.3 427.1L164.6 428.8L167.9 429.6L171 430.5" fill="none" stroke="#28aaa0" stroke-width="1.3" stroke-linejoin="round" clip-path="url(#cCorange)"/><path d="M137 430.5L141.6 429.6L145.7 428L149 425.5L151.5 420.6L152.8 412.4L153.9 404.2L155.6 394.3L157.2 381.2L158.4 368.1L159.3 355L161 335L161.9 324.7L163.1 309.8L164.2 294.9L164.9 284.4L165.7 281.7L167.2 282.9L167.9 276.2L168.7 271.3L169.7 275.4L170.9 279.2L171.6 287.4L172.4 302.3L173.6 317.2L174.6 335L176.3 355L177.8 368.6L178.8 384L180.6 397.6L182.8 411.3L185.7 421.5L189.1 427.5L193.3 430L198 430.5" fill="none" stroke="#fa9e32" stroke-width="1.3" stroke-linejoin="round"/></g>
<line x1="46" y1="430.7" x2="220" y2="430.7" stroke="#dc8a44" stroke-width="1.4"/>
<path d="M46 255.9H220V430.5" fill="none" stroke="#9f9f9f" stroke-width="1.1"/>
<line x1="46" y1="255.9" x2="46" y2="431" stroke="#9f9f9f" stroke-width="1.2"/>
<g><line x1="41.4" y1="430.3" x2="46" y2="430.3" stroke="#111" stroke-width="1.3"/><line x1="44" y1="418.86" x2="46" y2="418.86" stroke="#111" stroke-width="1.0"/><line x1="44" y1="407.43" x2="46" y2="407.43" stroke="#111" stroke-width="1.0"/><line x1="44" y1="395.99" x2="46" y2="395.99" stroke="#111" stroke-width="1.0"/><line x1="41.4" y1="384.55" x2="46" y2="384.55" stroke="#111" stroke-width="1.3"/><line x1="44" y1="373.11" x2="46" y2="373.11" stroke="#111" stroke-width="1.0"/><line x1="44" y1="361.68" x2="46" y2="361.68" stroke="#111" stroke-width="1.0"/><line x1="44" y1="350.24" x2="46" y2="350.24" stroke="#111" stroke-width="1.0"/><line x1="41.4" y1="338.8" x2="46" y2="338.8" stroke="#111" stroke-width="1.3"/><line x1="44" y1="327.36" x2="46" y2="327.36" stroke="#111" stroke-width="1.0"/><line x1="44" y1="315.93" x2="46" y2="315.93" stroke="#111" stroke-width="1.0"/><line x1="44" y1="304.49" x2="46" y2="304.49" stroke="#111" stroke-width="1.0"/><line x1="41.4" y1="293.05" x2="46" y2="293.05" stroke="#111" stroke-width="1.3"/><line x1="44" y1="281.61" x2="46" y2="281.61" stroke="#111" stroke-width="1.0"/><line x1="44" y1="270.18" x2="46" y2="270.18" stroke="#111" stroke-width="1.0"/><line x1="44" y1="258.74" x2="46" y2="258.74" stroke="#111" stroke-width="1.0"/><text x="37.8" y="430" text-anchor="end" class="tl">0</text><text x="37.8" y="386.75" text-anchor="end" class="tl">100</text><text x="37.8" y="341" text-anchor="end" class="tl">200</text><text x="37.8" y="295.25" text-anchor="end" class="tl">300</text><line x1="46" y1="430.5" x2="46" y2="435.7" stroke="#111" stroke-width="1.3"/><line x1="56.05" y1="430.5" x2="56.05" y2="433.1" stroke="#111" stroke-width="1"/><line x1="61.94" y1="430.5" x2="61.94" y2="433.1" stroke="#111" stroke-width="1"/><line x1="66.11" y1="430.5" x2="66.11" y2="433.1" stroke="#111" stroke-width="1"/><line x1="69.35" y1="430.5" x2="69.35" y2="433.1" stroke="#111" stroke-width="1"/><line x1="71.99" y1="430.5" x2="71.99" y2="433.1" stroke="#111" stroke-width="1"/><line x1="74.23" y1="430.5" x2="74.23" y2="433.1" stroke="#111" stroke-width="1"/><line x1="76.16" y1="430.5" x2="76.16" y2="433.1" stroke="#111" stroke-width="1"/><line x1="77.87" y1="430.5" x2="77.87" y2="433.1" stroke="#111" stroke-width="1"/><line x1="79.4" y1="430.5" x2="79.4" y2="435.7" stroke="#111" stroke-width="1.3"/><line x1="89.45" y1="430.5" x2="89.45" y2="433.1" stroke="#111" stroke-width="1"/><line x1="95.34" y1="430.5" x2="95.34" y2="433.1" stroke="#111" stroke-width="1"/><line x1="99.51" y1="430.5" x2="99.51" y2="433.1" stroke="#111" stroke-width="1"/><line x1="102.75" y1="430.5" x2="102.75" y2="433.1" stroke="#111" stroke-width="1"/><line x1="105.39" y1="430.5" x2="105.39" y2="433.1" stroke="#111" stroke-width="1"/><line x1="107.63" y1="430.5" x2="107.63" y2="433.1" stroke="#111" stroke-width="1"/><line x1="109.56" y1="430.5" x2="109.56" y2="433.1" stroke="#111" stroke-width="1"/><line x1="111.27" y1="430.5" x2="111.27" y2="433.1" stroke="#111" stroke-width="1"/><line x1="112.8" y1="430.5" x2="112.8" y2="435.7" stroke="#111" stroke-width="1.3"/><line x1="122.85" y1="430.5" x2="122.85" y2="433.1" stroke="#111" stroke-width="1"/><line x1="128.74" y1="430.5" x2="128.74" y2="433.1" stroke="#111" stroke-width="1"/><line x1="132.91" y1="430.5" x2="132.91" y2="433.1" stroke="#111" stroke-width="1"/><line x1="136.15" y1="430.5" x2="136.15" y2="433.1" stroke="#111" stroke-width="1"/><line x1="138.79" y1="430.5" x2="138.79" y2="433.1" stroke="#111" stroke-width="1"/><line x1="141.03" y1="430.5" x2="141.03" y2="433.1" stroke="#111" stroke-width="1"/><line x1="142.96" y1="430.5" x2="142.96" y2="433.1" stroke="#111" stroke-width="1"/><line x1="144.67" y1="430.5" x2="144.67" y2="433.1" stroke="#111" stroke-width="1"/><line x1="146.2" y1="430.5" x2="146.2" y2="435.7" stroke="#111" stroke-width="1.3"/><line x1="156.25" y1="430.5" x2="156.25" y2="433.1" stroke="#111" stroke-width="1"/><line x1="162.14" y1="430.5" x2="162.14" y2="433.1" stroke="#111" stroke-width="1"/><line x1="166.31" y1="430.5" x2="166.31" y2="433.1" stroke="#111" stroke-width="1"/><line x1="169.55" y1="430.5" x2="169.55" y2="433.1" stroke="#111" stroke-width="1"/><line x1="172.19" y1="430.5" x2="172.19" y2="433.1" stroke="#111" stroke-width="1"/><line x1="174.43" y1="430.5" x2="174.43" y2="433.1" stroke="#111" stroke-width="1"/><line x1="176.36" y1="430.5" x2="176.36" y2="433.1" stroke="#111" stroke-width="1"/><line x1="178.07" y1="430.5" x2="178.07" y2="433.1" stroke="#111" stroke-width="1"/><line x1="179.6" y1="430.5" x2="179.6" y2="435.7" stroke="#111" stroke-width="1.3"/><line x1="189.65" y1="430.5" x2="189.65" y2="433.1" stroke="#111" stroke-width="1"/><line x1="195.54" y1="430.5" x2="195.54" y2="433.1" stroke="#111" stroke-width="1"/><line x1="199.71" y1="430.5" x2="199.71" y2="433.1" stroke="#111" stroke-width="1"/><line x1="202.95" y1="430.5" x2="202.95" y2="433.1" stroke="#111" stroke-width="1"/><line x1="205.59" y1="430.5" x2="205.59" y2="433.1" stroke="#111" stroke-width="1"/><line x1="207.83" y1="430.5" x2="207.83" y2="433.1" stroke="#111" stroke-width="1"/><line x1="209.76" y1="430.5" x2="209.76" y2="433.1" stroke="#111" stroke-width="1"/><line x1="211.47" y1="430.5" x2="211.47" y2="433.1" stroke="#111" stroke-width="1"/><line x1="213" y1="430.5" x2="213" y2="435.7" stroke="#111" stroke-width="1.3"/><text x="49.7" y="445.8" class="tl xl">10<tspan class="sup" dy="-4.2">1</tspan></text><text x="79.2" y="445.8" class="tl xl">10<tspan class="sup" dy="-4.2">2</tspan></text><text x="113.6" y="445.8" class="tl xl">10<tspan class="sup" dy="-4.2">3</tspan></text><text x="147.1" y="445.8" class="tl xl">10<tspan class="sup" dy="-4.2">4</tspan></text><text x="180.2" y="445.8" class="tl xl">10<tspan class="sup" dy="-4.2">5</tspan></text><text x="210.1" y="445.8" class="tl xl">10<tspan class="sup" dy="-4.2">6</tspan></text></g>
<text x="105.7" y="465.7" class="ax">RL1-H :: APC-H</text>
<text x="0" y="0" class="ax" text-anchor="middle" transform="translate(9.7 342.6) rotate(-90)">Count</text>
<text x="118.2" y="253.5" class="ti">T47D</text>
<text x="8.7" y="261.7" class="le">C</text>
<g><path d="M274.4 429.7L274.4 429.7L275.5 427.8L281 427.6L283.7 427.1L285 426.2L287.3 424.6L289.6 423.8L291.9 421.5L294.2 420L296.5 417.7L298.8 413.8L301.2 409.2L302.7 404.6L304.2 401.5L305.8 395.4L307.3 387.7L308.4 380L309.6 369.2L310.6 362L311.7 355.6L312.6 344.4L313.6 333.3L314.7 322.2L315.8 311.1L316.8 300L317.6 289.9L318.4 280.9L319.7 274.9L320.9 268.2L321.9 266.3L322.8 268.2L323.4 277.9L323.9 289.9L324.4 300L325.6 311.1L326.5 322.2L327.2 333.3L327.9 344.4L328.6 355.6L329.7 372.3L330.5 384.6L331.2 395.4L332.3 406.2L333.5 413.8L335.1 420L336.6 424.6L338.9 427.7L342 428.9L345 429.7L345 429.7Z" fill="#ffaaab"/><path d="M274.4 429.7L275.5 427.8L281 427.6L283.7 427.1L285 426.2L287.3 424.6L289.6 423.8L291.9 421.5L294.2 420L296.5 417.7L298.8 413.8L301.2 409.2L302.7 404.6L304.2 401.5L305.8 395.4L307.3 387.7L308.4 380L309.6 369.2L310.6 362L311.7 355.6L312.6 344.4L313.6 333.3L314.7 322.2L315.8 311.1L316.8 300L317.6 289.9L318.4 280.9L319.7 274.9L320.9 268.2L321.9 266.3L322.8 268.2L323.4 277.9L323.9 289.9L324.4 300L325.6 311.1L326.5 322.2L327.2 333.3L327.9 344.4L328.6 355.6L329.7 372.3L330.5 384.6L331.2 395.4L332.3 406.2L333.5 413.8L335.1 420L336.6 424.6L338.9 427.7L342 428.9L345 429.7" fill="none" stroke="#ff3b3b" stroke-width="1.3" stroke-linejoin="round"/><path d="M314 429.7L314 429.7L317.7 429L325.1 429.2L329.7 428.5L332.8 426.9L335.1 424.6L337.1 420.8L338.9 415.4L340.8 407.7L342.3 396.9L343.5 384.6L344.8 372.3L345.8 360L346.8 352L347.8 345L349 334.7L350.4 319.8L351.9 304.9L353.1 291.4L353.7 286.2L354.9 290.7L357.5 281L358.7 288.4L360.9 298.9L362.4 307.8L363.6 322.8L364.6 337.7L365.4 345L366.3 360.3L368.4 380.5L370.4 396.7L372.4 408.9L374.8 419L378.5 425.1L382.5 428.1L388.6 429.1L393 429.7L393 429.7Z" fill="#64e9ff"/><path d="M314 429.7L314 429.7L317.7 429L325.1 429.2L329.7 428.5L332.8 426.9L335.1 424.6L337.1 420.8L338.9 415.4L340.8 407.7L342.3 396.9L343.5 384.6L344.8 372.3L345.8 360L346.8 352L347.8 345L349 334.7L350.4 319.8L351.9 304.9L353.1 291.4L353.7 286.2L354.9 290.7L357.5 281L358.7 288.4L360.9 298.9L362.4 307.8L363.6 322.8L364.6 337.7L365.4 345L366.3 360.3L368.4 380.5L370.4 396.7L372.4 408.9L374.8 419L378.5 425.1L382.5 428.1L388.6 429.1L393 429.7L393 429.7Z" fill="#82b4c8" clip-path="url(#cDred)"/><path d="M274.4 429.7L275.5 427.8L281 427.6L283.7 427.1L285 426.2L287.3 424.6L289.6 423.8L291.9 421.5L294.2 420L296.5 417.7L298.8 413.8L301.2 409.2L302.7 404.6L304.2 401.5L305.8 395.4L307.3 387.7L308.4 380L309.6 369.2L310.6 362L311.7 355.6L312.6 344.4L313.6 333.3L314.7 322.2L315.8 311.1L316.8 300L317.6 289.9L318.4 280.9L319.7 274.9L320.9 268.2L321.9 266.3L322.8 268.2L323.4 277.9L323.9 289.9L324.4 300L325.6 311.1L326.5 322.2L327.2 333.3L327.9 344.4L328.6 355.6L329.7 372.3L330.5 384.6L331.2 395.4L332.3 406.2L333.5 413.8L335.1 420L336.6 424.6L338.9 427.7L342 428.9L345 429.7" fill="none" stroke="#b46e82" stroke-width="1.3" stroke-linejoin="round" clip-path="url(#cDcyan)"/><path d="M314 429.7L317.7 429L325.1 429.2L329.7 428.5L332.8 426.9L335.1 424.6L337.1 420.8L338.9 415.4L340.8 407.7L342.3 396.9L343.5 384.6L344.8 372.3L345.8 360L346.8 352L347.8 345L349 334.7L350.4 319.8L351.9 304.9L353.1 291.4L353.7 286.2L354.9 290.7L357.5 281L358.7 288.4L360.9 298.9L362.4 307.8L363.6 322.8L364.6 337.7L365.4 345L366.3 360.3L368.4 380.5L370.4 396.7L372.4 408.9L374.8 419L378.5 425.1L382.5 428.1L388.6 429.1L393 429.7" fill="none" stroke="#06cdf6" stroke-width="1.3" stroke-linejoin="round"/><path d="M350 429.7L350 429.7L356.2 429.1L360.3 428.1L365.3 424L369.4 417L372.4 406.8L374.4 396.7L376.9 380.5L379.5 360.3L381.2 342L382.1 330L383.1 319.7L384.3 304.8L385.6 289.7L386.6 280L387.3 272.4L388.3 267L389.4 271.2L390.9 269.7L392.1 273.4L392.7 282.4L393.6 297.3L394.6 312.2L395.5 330L396.5 340L398 360.3L399.8 380.5L401.9 400.8L404.5 414.9L407.8 424L411.9 428.1L417 429.1L422 429.7L422 429.7Z" fill="#fcd4aa"/><path d="M350 429.7L350 429.7L356.2 429.1L360.3 428.1L365.3 424L369.4 417L372.4 406.8L374.4 396.7L376.9 380.5L379.5 360.3L381.2 342L382.1 330L383.1 319.7L384.3 304.8L385.6 289.7L386.6 280L387.3 272.4L388.3 267L389.4 271.2L390.9 269.7L392.1 273.4L392.7 282.4L393.6 297.3L394.6 312.2L395.5 330L396.5 340L398 360.3L399.8 380.5L401.9 400.8L404.5 414.9L407.8 424L411.9 428.1L417 429.1L422 429.7L422 429.7Z" fill="#bec8a5" clip-path="url(#cDcyan)"/><path d="M314 429.7L317.7 429L325.1 429.2L329.7 428.5L332.8 426.9L335.1 424.6L337.1 420.8L338.9 415.4L340.8 407.7L342.3 396.9L343.5 384.6L344.8 372.3L345.8 360L346.8 352L347.8 345L349 334.7L350.4 319.8L351.9 304.9L353.1 291.4L353.7 286.2L354.9 290.7L357.5 281L358.7 288.4L360.9 298.9L362.4 307.8L363.6 322.8L364.6 337.7L365.4 345L366.3 360.3L368.4 380.5L370.4 396.7L372.4 408.9L374.8 419L378.5 425.1L382.5 428.1L388.6 429.1L393 429.7" fill="none" stroke="#28aaa0" stroke-width="1.3" stroke-linejoin="round" clip-path="url(#cDorange)"/><path d="M350 429.7L356.2 429.1L360.3 428.1L365.3 424L369.4 417L372.4 406.8L374.4 396.7L376.9 380.5L379.5 360.3L381.2 342L382.1 330L383.1 319.7L384.3 304.8L385.6 289.7L386.6 280L387.3 272.4L388.3 267L389.4 271.2L390.9 269.7L392.1 273.4L392.7 282.4L393.6 297.3L394.6 312.2L395.5 330L396.5 340L398 360.3L399.8 380.5L401.9 400.8L404.5 414.9L407.8 424L411.9 428.1L417 429.1L422 429.7" fill="none" stroke="#fa9e32" stroke-width="1.3" stroke-linejoin="round"/></g>
<line x1="274.4" y1="429.9" x2="447.5" y2="429.9" stroke="#dc8a44" stroke-width="1.4"/>
<path d="M274.4 256.3H447.5V429.7" fill="none" stroke="#8a8a8a" stroke-width="1.1"/>
<line x1="274.4" y1="256.3" x2="274.4" y2="430.2" stroke="#8a8a8a" stroke-width="1.2"/>
<g><line x1="269.8" y1="429.5" x2="274.4" y2="429.5" stroke="#111" stroke-width="1.3"/><line x1="272.4" y1="418.74" x2="274.4" y2="418.74" stroke="#111" stroke-width="1.0"/><line x1="272.4" y1="407.99" x2="274.4" y2="407.99" stroke="#111" stroke-width="1.0"/><line x1="272.4" y1="397.23" x2="274.4" y2="397.23" stroke="#111" stroke-width="1.0"/><line x1="269.8" y1="386.47" x2="274.4" y2="386.47" stroke="#111" stroke-width="1.3"/><line x1="272.4" y1="375.71" x2="274.4" y2="375.71" stroke="#111" stroke-width="1.0"/><line x1="272.4" y1="364.95" x2="274.4" y2="364.95" stroke="#111" stroke-width="1.0"/><line x1="272.4" y1="354.2" x2="274.4" y2="354.2" stroke="#111" stroke-width="1.0"/><line x1="269.8" y1="343.44" x2="274.4" y2="343.44" stroke="#111" stroke-width="1.3"/><line x1="272.4" y1="332.68" x2="274.4" y2="332.68" stroke="#111" stroke-width="1.0"/><line x1="272.4" y1="321.93" x2="274.4" y2="321.93" stroke="#111" stroke-width="1.0"/><line x1="272.4" y1="311.17" x2="274.4" y2="311.17" stroke="#111" stroke-width="1.0"/><line x1="269.8" y1="300.41" x2="274.4" y2="300.41" stroke="#111" stroke-width="1.3"/><line x1="272.4" y1="289.65" x2="274.4" y2="289.65" stroke="#111" stroke-width="1.0"/><line x1="272.4" y1="278.89" x2="274.4" y2="278.89" stroke="#111" stroke-width="1.0"/><line x1="272.4" y1="268.14" x2="274.4" y2="268.14" stroke="#111" stroke-width="1.0"/><line x1="269.8" y1="257.38" x2="274.4" y2="257.38" stroke="#111" stroke-width="1.3"/><text x="266.7" y="429.2" text-anchor="end" class="tl">0</text><text x="266.7" y="388.67" text-anchor="end" class="tl">100</text><text x="266.7" y="345.64" text-anchor="end" class="tl">200</text><text x="266.7" y="302.61" text-anchor="end" class="tl">300</text><text x="266.7" y="261.88" text-anchor="end" class="tl">400</text><line x1="274.4" y1="429.7" x2="274.4" y2="434.9" stroke="#111" stroke-width="1.3"/><line x1="284.44" y1="429.7" x2="284.44" y2="432.3" stroke="#111" stroke-width="1"/><line x1="290.31" y1="429.7" x2="290.31" y2="432.3" stroke="#111" stroke-width="1"/><line x1="294.47" y1="429.7" x2="294.47" y2="432.3" stroke="#111" stroke-width="1"/><line x1="297.7" y1="429.7" x2="297.7" y2="432.3" stroke="#111" stroke-width="1"/><line x1="300.34" y1="429.7" x2="300.34" y2="432.3" stroke="#111" stroke-width="1"/><line x1="302.58" y1="429.7" x2="302.58" y2="432.3" stroke="#111" stroke-width="1"/><line x1="304.51" y1="429.7" x2="304.51" y2="432.3" stroke="#111" stroke-width="1"/><line x1="306.21" y1="429.7" x2="306.21" y2="432.3" stroke="#111" stroke-width="1"/><line x1="307.74" y1="429.7" x2="307.74" y2="434.9" stroke="#111" stroke-width="1.3"/><line x1="317.78" y1="429.7" x2="317.78" y2="432.3" stroke="#111" stroke-width="1"/><line x1="323.65" y1="429.7" x2="323.65" y2="432.3" stroke="#111" stroke-width="1"/><line x1="327.81" y1="429.7" x2="327.81" y2="432.3" stroke="#111" stroke-width="1"/><line x1="331.04" y1="429.7" x2="331.04" y2="432.3" stroke="#111" stroke-width="1"/><line x1="333.68" y1="429.7" x2="333.68" y2="432.3" stroke="#111" stroke-width="1"/><line x1="335.92" y1="429.7" x2="335.92" y2="432.3" stroke="#111" stroke-width="1"/><line x1="337.85" y1="429.7" x2="337.85" y2="432.3" stroke="#111" stroke-width="1"/><line x1="339.55" y1="429.7" x2="339.55" y2="432.3" stroke="#111" stroke-width="1"/><line x1="341.08" y1="429.7" x2="341.08" y2="434.9" stroke="#111" stroke-width="1.3"/><line x1="351.12" y1="429.7" x2="351.12" y2="432.3" stroke="#111" stroke-width="1"/><line x1="356.99" y1="429.7" x2="356.99" y2="432.3" stroke="#111" stroke-width="1"/><line x1="361.15" y1="429.7" x2="361.15" y2="432.3" stroke="#111" stroke-width="1"/><line x1="364.38" y1="429.7" x2="364.38" y2="432.3" stroke="#111" stroke-width="1"/><line x1="367.02" y1="429.7" x2="367.02" y2="432.3" stroke="#111" stroke-width="1"/><line x1="369.26" y1="429.7" x2="369.26" y2="432.3" stroke="#111" stroke-width="1"/><line x1="371.19" y1="429.7" x2="371.19" y2="432.3" stroke="#111" stroke-width="1"/><line x1="372.89" y1="429.7" x2="372.89" y2="432.3" stroke="#111" stroke-width="1"/><line x1="374.42" y1="429.7" x2="374.42" y2="434.9" stroke="#111" stroke-width="1.3"/><line x1="384.46" y1="429.7" x2="384.46" y2="432.3" stroke="#111" stroke-width="1"/><line x1="390.33" y1="429.7" x2="390.33" y2="432.3" stroke="#111" stroke-width="1"/><line x1="394.49" y1="429.7" x2="394.49" y2="432.3" stroke="#111" stroke-width="1"/><line x1="397.72" y1="429.7" x2="397.72" y2="432.3" stroke="#111" stroke-width="1"/><line x1="400.36" y1="429.7" x2="400.36" y2="432.3" stroke="#111" stroke-width="1"/><line x1="402.6" y1="429.7" x2="402.6" y2="432.3" stroke="#111" stroke-width="1"/><line x1="404.53" y1="429.7" x2="404.53" y2="432.3" stroke="#111" stroke-width="1"/><line x1="406.23" y1="429.7" x2="406.23" y2="432.3" stroke="#111" stroke-width="1"/><line x1="407.76" y1="429.7" x2="407.76" y2="434.9" stroke="#111" stroke-width="1.3"/><line x1="417.8" y1="429.7" x2="417.8" y2="432.3" stroke="#111" stroke-width="1"/><line x1="423.67" y1="429.7" x2="423.67" y2="432.3" stroke="#111" stroke-width="1"/><line x1="427.83" y1="429.7" x2="427.83" y2="432.3" stroke="#111" stroke-width="1"/><line x1="431.06" y1="429.7" x2="431.06" y2="432.3" stroke="#111" stroke-width="1"/><line x1="433.7" y1="429.7" x2="433.7" y2="432.3" stroke="#111" stroke-width="1"/><line x1="435.94" y1="429.7" x2="435.94" y2="432.3" stroke="#111" stroke-width="1"/><line x1="437.87" y1="429.7" x2="437.87" y2="432.3" stroke="#111" stroke-width="1"/><line x1="439.57" y1="429.7" x2="439.57" y2="432.3" stroke="#111" stroke-width="1"/><line x1="441.1" y1="429.7" x2="441.1" y2="434.9" stroke="#111" stroke-width="1.3"/><text x="277.7" y="445" class="tl xl">10<tspan class="sup" dy="-4.2">1</tspan></text><text x="307.7" y="445" class="tl xl">10<tspan class="sup" dy="-4.2">2</tspan></text><text x="342" y="445" class="tl xl">10<tspan class="sup" dy="-4.2">3</tspan></text><text x="374.8" y="445" class="tl xl">10<tspan class="sup" dy="-4.2">4</tspan></text><text x="407.8" y="445" class="tl xl">10<tspan class="sup" dy="-4.2">5</tspan></text><text x="438.1" y="445" class="tl xl">10<tspan class="sup" dy="-4.2">6</tspan></text></g>
<text x="334.1" y="464.6" class="ax">RL1-H :: APC-H</text>
<text x="0" y="0" class="ax" text-anchor="middle" transform="translate(238 342.3) rotate(-90)">Count</text>
<text x="349.1" y="253.5" class="ti">MCF-7</text>
<text x="241" y="261.8" class="le">D</text>
<rect x="466.4" y="373.3" width="11.6" height="9.3" fill="#ffa9a6"/>
<text x="486.2" y="381.1" class="lg">Isotype</text>
<rect x="466.4" y="392.2" width="11.6" height="9.3" fill="#5cebff"/>
<text x="486.2" y="399.2" class="lg">Anti-SORT1</text>
<rect x="466.4" y="410.2" width="11.6" height="9.3" fill="#fcd4aa"/>
<text x="486.2" y="419.1" class="lg">Anti-HER2</text>
</svg></body></html>
